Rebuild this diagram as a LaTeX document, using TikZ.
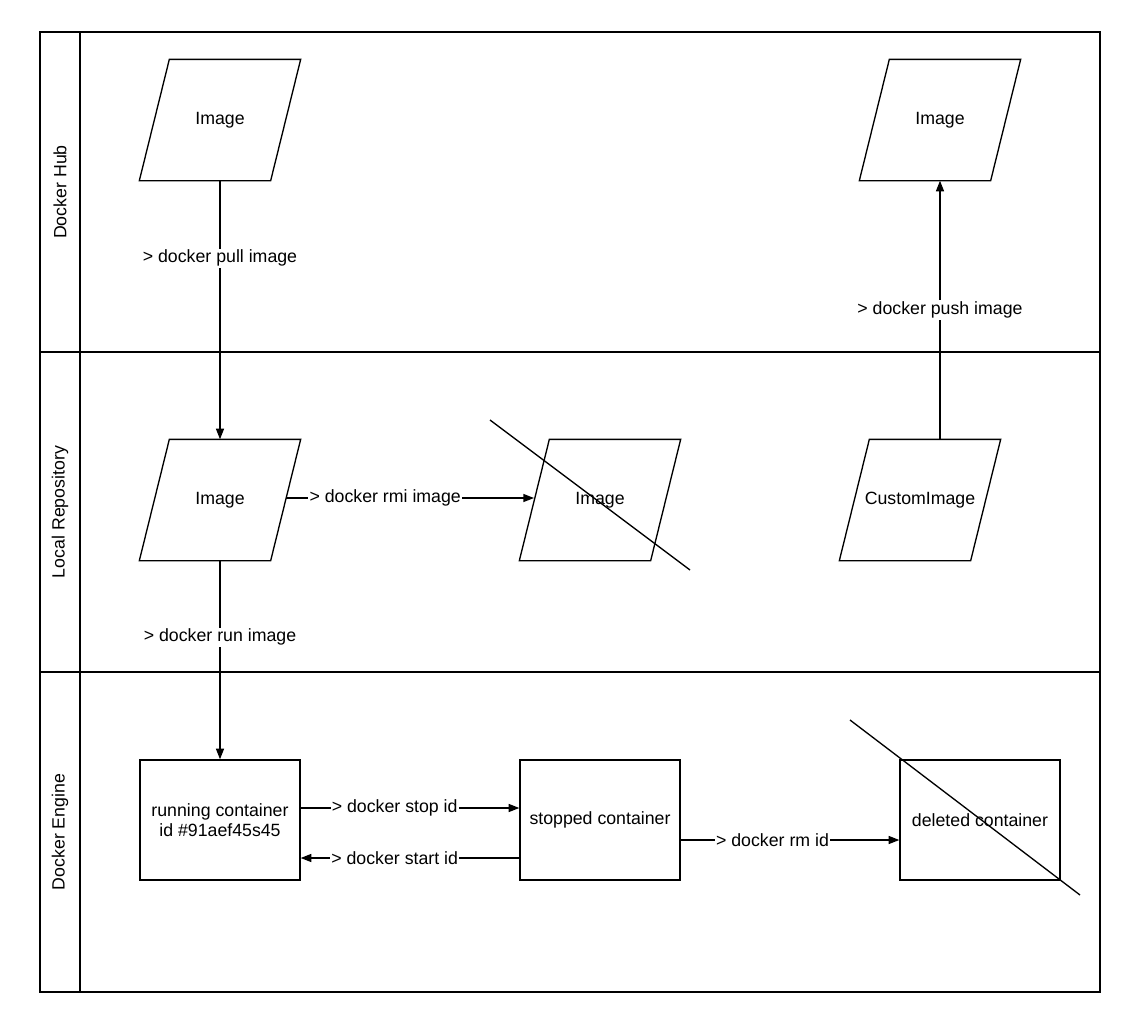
\documentclass[tikz,border=0pt]{standalone}
\usepackage{fontspec}
\setmainfont{Liberation Sans}
\usetikzlibrary{calc,arrows.meta}

\begin{document}
\begin{tikzpicture}[x=0.75pt,y=-0.75pt, line width=1pt,
		styleImg/.style={rectangle, minimum width=120pt, minimum height=90pt, inner sep=0pt},
		styleBox/.style={draw, rectangle, minimum width=120pt, minimum height=90pt, align=center},
		cmd/.style={fill=white, inner sep=1pt},
		lane/.style={rotate=90},
		>={Triangle[length=8pt,width=6pt]},
		font=\fontsize{13.3}{15.5}\selectfont]
	\useasboundingbox (0,0) rectangle (1140,1032);
	% lanes
	\draw (40,32) rectangle (1100,992);
	\draw (80,32) -- (80,992);
	\draw (40,352) -- (1100,352);
	\draw (40,672) -- (1100,672);
	\node(laneHub)[lane] at (60,192) {Docker Hub};
	\node(laneRepo)[lane] at (60,512) {Local Repository};
	\node(laneEngine)[lane] at (60,832) {Docker Engine};

	% nodes
	\node(hubImg)[styleImg] at (220,120) {Image};
	\node(hubCustom)[styleImg] at (940,120) {Image};
	\node(repoImg)[styleImg] at (220,500) {Image};
	\node(rmImg)[styleImg] at (600,500) {Image};
	\node(customImg)[styleImg] at (920,500) {CustomImage};
	\node(running)[styleBox] at (220,820) {running container\\id \#91aef45s45};
	\node(stopped)[styleBox] at (600,820) {stopped container};
	\node(deleted)[styleBox] at (980,820) {deleted container};

	% parallelogram outlines
	\foreach \n in {hubImg,hubCustom,repoImg,rmImg,customImg}
		\draw ($(\n.north west)+(30,0)$) -- (\n.north east)
			-- ($(\n.south east)+(-30,0)$) -- (\n.south west) -- cycle;

	% connectors
	\draw[->] (hubImg) -- node[cmd, pos=0.3]{> docker pull image} (repoImg);
	\draw[->] (customImg.north -| hubCustom.south) -- node[cmd, pos=0.5]{> docker push image} (hubCustom.south);
	\draw[->] ([xshift=-11pt,yshift=1.5pt]repoImg.east) -- node[cmd, pos=0.4]{> docker rmi image} ([xshift=11pt,yshift=1.5pt]rmImg.west);
	\draw[->] (repoImg) -- node[cmd, pos=0.385]{> docker run image} (running);
	\draw[->] ([yshift=9pt]running.east) -- node[cmd, pos=0.43]{> docker stop id} ([yshift=9pt]stopped.west);
	\draw[->] ([yshift=-28.5pt]stopped.west) -- node[cmd, pos=0.57]{> docker start id} ([yshift=-28.5pt]running.east);
	\draw[->] ([yshift=-15pt]stopped.east) -- node[cmd, pos=0.42]{> docker rm id} ([yshift=-15pt]deleted.west);

	% crossed out
	\draw (490,420) -- (690,570);
	\draw (850,720) -- (1080,895);
\end{tikzpicture}
\end{document}
